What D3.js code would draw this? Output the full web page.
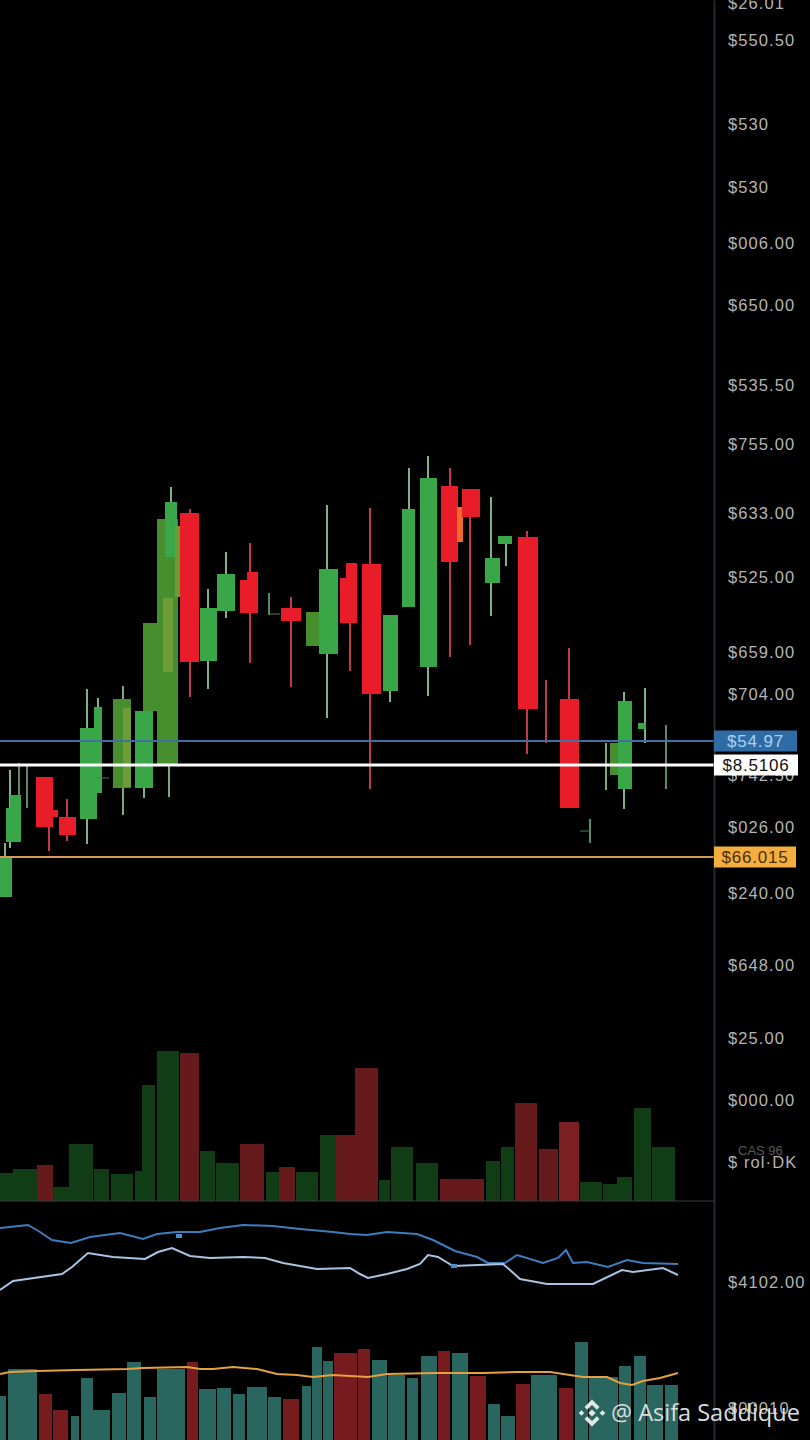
<!DOCTYPE html>
<html>
<head>
<meta charset="utf-8">
<script src="https://cdn.jsdelivr.net/npm/d3@7"></script>
<style>
html,body{margin:0;padding:0;background:#000;}
svg{display:block;}
text{font-family:"Liberation Sans",sans-serif;}
</style>
</head>
<body>
<svg id="c" width="810" height="1440"></svg>
<script>
// Candles (time units run along the chart, price is read against the price axis)
const candleKind  = ["g","g","t","t","r","r","r","g","g","d","o","g","d","d","g","o","o","r","g","g","r","t","r","d","g","r","r","g","g","g","r","a","r","g","g","r","r","r","t","d","g","g","t","r","r","g"];
const candleStart = [0,6,19,27,36,53,59,80,94,113,123,135,143,157,165,175,163,180,200,217,240,269,281,306,319,340,362,383,402,420,441,457,462,485,498,518,546,560,590,610,618,638,666,247,346,10];
const candleEnd   = [12,21,19,27,53,58,76,97,102,131,131,153,157,178,177,183,173,199,217,235,258,269,301,322,338,357,381,398,415,437,458,463,480,500,512,538,546,579,590,618,632,646,666,258,357,21];
const candleWick  = [5,10,19,27,49,55,67,87,98,123,127,144,150,169,171,179,168,190,208,226,250,269,291,314,327,350,370,390,409,428,450,460,470,491,506,527,546,569,590,606,624,645,666,250,350,15];
const candleTop   = [43,92,137,135,123,90,83,172,193,201,192,189,277,381,398,374,302,387,292,326,320,307,292,288,331,322,336,285,391,422,414,393,411,342,364,363,220,201,81,157,199,177,175,328,337,105];
const candleBot   = [3,58,105,92,73,83,65,81,107,112,113,112,189,135,343,303,228,238,239,289,287,285,279,254,246,277,206,209,293,233,338,358,383,317,356,191,157,92,57,125,111,171,111,300,300,60];
const candleHigh  = [57,130,137,135,123,90,101,211,202,214,192,189,277,381,413,374,302,391,311,348,357,307,303,288,395,337,392,285,432,444,432,393,411,403,364,369,220,252,81,157,208,212,175,328,337,105];
const candleLow   = [3,52,105,92,49,83,59,56,107,85,113,102,189,103,343,303,228,203,211,282,237,285,213,254,182,229,111,198,293,204,243,358,255,284,334,146,157,92,57,110,91,157,111,300,300,60];

// Small pale horizontal ticks beside a few candles
const dashStart = [97,269,580];
const dashEnd   = [109,280,590];
const dashPrice = [122,286,69];

const levelValues = [159,135,43];
const levelTags   = ["$54.97","$8.5106","$66.015"];

// Volume pane
const volKind  = ["g","g","r","g","g","g","g","g","g","g","r","g","g","r","g","r","g","g","r","r","g","g","g","r","r","g","g","r","r","R","g","g","g","g","g"];
const volStart = [0,13,37,53,69,94,111,135,142,157,180,200,216,240,266,279,296,320,336,355,379,391,416,440,462,486,501,515,539,559,580,603,617,634,652];
const volEnd   = [13,37,53,69,93,109,133,142,155,179,199,215,239,264,279,295,318,336,355,378,390,413,438,462,484,500,514,537,558,579,602,617,632,651,675];
const volume   = [28,32,36,14,57,32,27,30,116,150,148,50,38,57,29,34,29,66,66,133,21,54,38,22,22,40,54,98,52,79,19,17,24,93,54];

// Oscillator pane
const oscBlueT  = [0,28,40,52,71,90,120,143,157,177,200,220,243,273,300,333,350,367,387,417,433,455,477,488,505,517,543,558,566,573,587,608,627,643,678];
const oscBlue   = [112,115,108,100,97,103,107,101,106,108,108,112,115,114,111,108,106,105,108,106,100,89,83,77,77,85,77,82,90,77,78,73,80,77,76];
const oscLightT = [0,13,62,72,88,113,145,158,172,190,210,243,265,283,317,350,360,368,387,407,420,428,438,453,503,510,520,547,593,622,633,663,678];
const oscLight  = [50,59,66,73,87,83,81,88,92,84,82,83,82,77,71,72,66,62,66,71,76,85,83,74,76,70,61,56,56,70,68,72,65];
const oscMarkT  = [179,454];
const oscMark   = [104,74];

// Lower histogram pane
const histKind  = ["t","t","r","r","t","t","t","t","t","t","t","r","t","t","t","t","t","r","t","t","t","r","r","t","t","t","t","r","t","r","t","t","r","t","r","t","t","t","t","t","t","t"];
const histStart = [0,8,39,53,71,81,93,112,127,144,157,187,199,217,233,247,268,283,302,312,323,334,358,372,388,407,421,438,452,470,488,501,516,531,559,575,589,607,619,634,647,665];
const histEnd   = [6,37,52,68,79,93,110,126,141,156,185,198,216,231,245,267,281,299,311,322,333,357,370,387,405,418,437,450,468,486,500,515,530,557,573,588,607,618,631,646,663,678];
const histValue = [44,71,46,30,24,62,30,47,78,43,71,78,51,52,46,53,43,41,54,93,79,87,91,80,65,62,84,89,87,64,36,24,56,65,52,98,63,63,74,84,55,55];
const signalT   = [0,10,37,77,127,143,187,200,213,233,257,277,297,313,333,350,368,387,437,483,517,550,583,607,620,632,643,660,678];
const signal    = [66,68,69,70,71,72,73,71,71,73,71,66,65,63,65,64,63,66,67,67,68,68,63,63,57,55,59,62,67];

// Price axis labels
const tickValues = [897,860,776,713,657,595,515,456,387,323,248,206,125,73,7,-65,-138,-200,-262,-382,-508];
const tickLabels = ["$26.01","$550.50","$530","$530","$006.00","$650.00","$535.50","$755.00","$633.00","$525.00","$659.00","$704.00","$742.50","$026.00","$240.00","$648.00","$25.00","$000.00","$ rol·DK","$4102.00","$00010"];

const svg = d3.select("#c");
const W = 714;
const x = d3.scaleLinear().domain([0,W]).range([0,W]);
const y = d3.scaleLinear().domain([900,-540]).range([0,1440]);
const yVol = d3.scaleLinear().domain([0,150]).range([1201,1051]);
const yOsc = d3.scaleLinear().domain([0,140]).range([1340,1200]);
const yHist = d3.scaleLinear().domain([0,98]).range([1440,1342]);

const bodyColor = {g:"#39a748",d:"#478f2e",o:"#6f9d35",r:"#e81d29",a:"#ee6b2c",t:"#3a8d48"};
const wickColor = {g:"#7fb08a",d:"#7fa77c",o:"#6f9d35",r:"#c33a44",a:"#ee6b2c",t:"#5d8a66"};
const volColor  = {g:"#113d16",r:"#661a1c",R:"#7c1f23"};
const histColor = {t:"#29665f",r:"#761c1e"};

// Volume bars
svg.append("g").selectAll("rect").data(volume).join("rect")
  .attr("x",(d,i)=>x(volStart[i])).attr("width",(d,i)=>x(volEnd[i])-x(volStart[i]))
  .attr("y",d=>yVol(d)).attr("height",d=>yVol(0)-yVol(d))
  .attr("fill",(d,i)=>volColor[volKind[i]]);

// Candles
const idx = d3.range(candleKind.length);
const cand = svg.append("g").selectAll("g").data(idx).join("g");
cand.append("line")
  .attr("x1",i=>x(candleWick[i])).attr("x2",i=>x(candleWick[i]))
  .attr("y1",i=>y(candleHigh[i])).attr("y2",i=>y(candleLow[i]))
  .attr("stroke",i=>wickColor[candleKind[i]]).attr("stroke-width",2);
cand.filter(i=>candleEnd[i]>candleStart[i]).append("rect")
  .attr("x",i=>x(candleStart[i])).attr("width",i=>x(candleEnd[i])-x(candleStart[i]))
  .attr("y",i=>y(candleTop[i])).attr("height",i=>y(candleBot[i])-y(candleTop[i]))
  .attr("fill",i=>bodyColor[candleKind[i]]);
svg.append("g").selectAll("line").data(dashPrice).join("line")
  .attr("x1",(d,i)=>x(dashStart[i])).attr("x2",(d,i)=>x(dashEnd[i]))
  .attr("y1",d=>y(d)).attr("y2",d=>y(d))
  .attr("stroke","#4f7a58").attr("stroke-width",1);

// Level lines
const levelColor = ["#3f6fa3","#ffffff","#d8975a"];
const levelWidth = [2,3,2];
svg.append("g").selectAll("line").data(levelValues).join("line")
  .attr("x1",0).attr("x2",W).attr("y1",d=>y(d)).attr("y2",d=>y(d))
  .attr("stroke",(d,i)=>levelColor[i]).attr("stroke-width",(d,i)=>levelWidth[i]);

// Pane separator
svg.append("line").attr("x1",0).attr("x2",W).attr("y1",yVol(0)).attr("y2",yVol(0))
  .attr("stroke","#3a3d3f").attr("stroke-width",1);

// Oscillator lines
const lineGen = (ts,sc)=>d3.line().x((d,i)=>x(ts[i])).y(d=>sc(d));
svg.append("path").attr("d",lineGen(oscBlueT,yOsc)(oscBlue)).attr("fill","none").attr("stroke","#3d7dbd").attr("stroke-width",2);
svg.append("path").attr("d",lineGen(oscLightT,yOsc)(oscLight)).attr("fill","none").attr("stroke","#a9c4e2").attr("stroke-width",2);
svg.append("g").selectAll("rect").data(oscMark).join("rect")
  .attr("x",(d,i)=>x(oscMarkT[i])-3).attr("y",d=>yOsc(d)-2).attr("width",6).attr("height",4)
  .attr("fill","#4a8fc9");

// Histogram and signal
svg.append("g").selectAll("rect").data(histValue).join("rect")
  .attr("x",(d,i)=>x(histStart[i])).attr("width",(d,i)=>x(histEnd[i])-x(histStart[i]))
  .attr("y",d=>yHist(d)).attr("height",d=>yHist(0)-yHist(d))
  .attr("fill",(d,i)=>histColor[histKind[i]]);
svg.append("path").attr("d",lineGen(signalT,yHist)(signal)).attr("fill","none").attr("stroke","#e5a040").attr("stroke-width",2);

// Price axis
const axis = d3.axisRight(y).tickValues(tickValues).tickFormat((d,i)=>tickLabels[i]).tickSize(0).tickSizeOuter(0).tickPadding(14);
const ag = svg.append("g").attr("transform",`translate(${W},0)`).call(axis);
ag.select(".domain").attr("stroke","#26292e").attr("stroke-width",2);
ag.selectAll("text").attr("fill","#b4b4b4").attr("font-size",16.5).attr("letter-spacing",1.1)
  .style("font-family",'"Liberation Sans",sans-serif');

// Ghost text behind the garbled label
svg.append("text").attr("x",738).attr("y",y(-262)-7).attr("fill","#5a5a5a").attr("font-size",13).text("CAS 96");

// Level tags
const tagFill = ["#2f6ca6","#ffffff","#f3ae3f"];
const tagText = ["#a8d2f0","#111111","#4a2e08"];
const tagW = [83,84,82];
const tags = svg.append("g").selectAll("g").data(levelValues).join("g")
  .attr("transform",d=>`translate(${W},${y(d)})`);
tags.append("rect").attr("x",0).attr("y",-10.5).attr("width",(d,i)=>tagW[i]).attr("height",21).attr("fill",(d,i)=>tagFill[i]);
tags.append("text").attr("x",(d,i)=>tagW[i]/2).attr("dy","0.35em").attr("text-anchor","middle")
  .attr("font-size",17).attr("letter-spacing",0.8).attr("fill",(d,i)=>tagText[i]).text((d,i)=>levelTags[i]);

// Watermark
const wm = svg.append("g").attr("transform","translate(592,1413)").attr("fill","#dfe6e4");
wm.append("path").attr("d","M0,-13.5L7.5,-6L4.8,-3.3L0,-8.1L-4.8,-3.3L-7.5,-6Z");
wm.append("path").attr("d","M0,13.5L7.5,6L4.8,3.3L0,8.1L-4.8,3.3L-7.5,6Z");
wm.append("path").attr("d","M0,-3.6L3.6,0L0,3.6L-3.6,0Z");
wm.append("path").attr("d","M-10.5,-2.8L-7.7,0L-10.5,2.8L-13.3,0Z");
wm.append("path").attr("d","M10.5,-2.8L13.3,0L10.5,2.8L7.7,0Z");
svg.append("text").attr("x",611).attr("y",1421).attr("fill","#d9dedd").attr("font-size",23.5)
  .style("font-family",'"Open Sans",sans-serif').text("@ Asifa Saddique");
</script>
</body>
</html>
